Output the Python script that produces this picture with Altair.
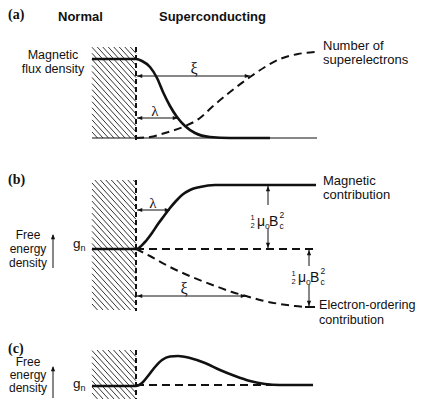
import altair as alt
import pandas as pd

# ---------------- data (diagram coordinates) ----------------
# (a) magnetic flux density (solid) and number of superelectrons (dashed)
flux_x = [92, 136, 142, 150, 157, 163, 170, 177, 185, 195, 210, 230, 270]
flux_y = [59, 59, 61, 67, 78, 92, 106, 117, 126, 133, 137, 138, 138]
super_x = [136, 150, 165, 183, 200, 212, 230, 250, 265, 280, 298, 315]
super_y = [138, 137, 133, 127, 118, 107, 92, 77, 67, 59, 54, 52]

# (b) magnetic contribution (solid) and electron-ordering contribution (dashed)
mag_x = [92, 136, 145, 152, 158, 164, 170, 176, 182, 190, 200, 215, 240, 316]
mag_y = [249, 249, 242, 233, 224, 216, 208, 201, 195, 190, 187, 185, 185, 185]
elec_x = [136, 150, 168, 185, 202, 218, 232, 246, 262, 280, 295, 306]
elec_y = [249, 256, 266, 274, 281, 287, 292, 296, 300.5, 304, 306, 307]

# (c) total free energy (solid)
tot_x = [92, 136, 142, 148, 155, 162, 170, 178, 190, 205, 220, 235, 250, 265, 280, 313]
tot_y = [386, 386, 383, 376, 367, 360, 356.5, 356, 358, 363, 370, 376, 381, 384, 385, 385]

# straight segments: x, y, x2, y2
thin_segs = [
    (137, 76, 250, 76), (137, 118, 178, 118),            # xi, lambda (a)
    (92, 138, 317, 138),                                 # baseline (a)
    (137, 210, 170, 210), (137, 296, 246, 296),          # lambda, xi (b)
    (268, 186, 268, 205), (268, 229, 268, 248),          # 1/2 mu0 Bc^2 upper
    (309, 250, 309, 266), (309, 285, 309, 306),          # 1/2 mu0 Bc^2 lower
    (53, 235, 53, 268), (53, 367, 53, 398),              # free energy arrows
]
thick_segs = [(305, 307, 315, 307)]
iface_segs = [(136, 47, 136, 140), (136, 180, 136, 311), (136, 350, 136, 405)]
level_segs = [(136, 249, 317, 249), (136, 385, 316, 385)]
# arrow heads: x, y, direction angle
heads = [
    (137, 76, 180), (250, 76, 0), (137, 118, 180), (178, 118, 0),
    (137, 210, 180), (170, 210, 0), (137, 296, 180), (246, 296, 0),
    (268, 186, 270), (268, 248, 90), (309, 250, 270), (309, 306, 90),
    (53, 234, 270), (53, 366, 270),
]
# hatched normal regions: x0, x1, y0, y1
hatch_boxes = [(92, 136, 47, 138), (92, 136, 180, 310), (92, 136, 350, 405)]
hatch_step = 5.5
hatch_slope = 1.1

# texts
sans_left = [
    ("Number of", 323, 50, 13), ("superelectrons", 323, 64, 13),
    ("Magnetic", 323, 185, 13), ("contribution", 323, 199, 13),
    ("Electron-ordering", 319, 309, 12.6), ("contribution", 319, 324, 12.6),
    ("g", 73, 248, 13.5), ("n", 80.5, 251, 9),
    ("g", 73, 388, 13.5), ("n", 80.5, 391, 9),
]
formula_parts = [  # text, x, y, size (relative to first label)
    ("\u03bc", 257, 226, 14), ("o", 265, 228.5, 8.5), ("B", 269, 226, 14),
    ("2", 279.5, 218, 8.5), ("c", 279.5, 228.5, 8.5),
]
formula_offsets = [(0, 0), (41, 56)]
fraction_parts = [("1", 252.5, 220, 7.5), ("2", 252.5, 227.5, 7.5)]
sans_center = [
    ("Magnetic", 53, 59, 12.5), ("flux density", 53, 73, 12.5),
    ("Free", 28, 239, 12), ("energy", 28, 253, 12), ("density", 28, 267, 12),
    ("Free", 28, 366, 12), ("energy", 28, 379, 12), ("density", 28, 392, 12),
]
bold_left = [("Normal", 58, 21, 13), ("Superconducting", 159, 21, 13)]
panel_labels = [("(a)", 8, 19, 14), ("(b)", 8, 184, 14), ("(c)", 8, 353, 14)]
greek = [("\u03be", 194, 74, 16), ("\u03bb", 155, 116, 15),
         ("\u03bb", 153, 208, 15), ("\u03be", 184, 294, 16)]

# ---------------- build tables ----------------
def curves(specs):
    rows = []
    for key, xs, ys in specs:
        for i, (x, y) in enumerate(zip(xs, ys)):
            rows.append({"x": x, "y": y, "k": key, "i": i})
    return pd.DataFrame(rows)

def segs(lst):
    return pd.DataFrame(lst, columns=["x", "y", "x2", "y2"])

def texts(lst):
    return pd.DataFrame(lst, columns=["t", "x", "y", "s"])

hatch = []
for (x0, x1, y0, y1) in hatch_boxes:
    s = x0 - (y1 - y0) / hatch_slope
    while s < x1:
        xa, ya = s, y0
        if xa < x0:
            ya, xa = y0 + hatch_slope * (x0 - s), x0
        xb, yb = s + (y1 - y0) / hatch_slope, y1
        if xb > x1:
            yb, xb = y0 + hatch_slope * (x1 - s), x1
        if ya < y1 and xa < xb:
            hatch.append((xa, ya, xb, yb))
        s += hatch_step

formula = []
frac = []
for dx, dy in formula_offsets:
    for t, x, y, sz in formula_parts:
        formula.append((t, x + dx, y + dy, sz))
    for t, x, y, sz in fraction_parts:
        frac.append((t, x + dx, y + dy, sz))

XS = alt.Scale(domain=[8, 416], nice=False, zero=False)
YS = alt.Scale(domain=[8, 399], nice=False, zero=False, reverse=True)
X = alt.X("x:Q", scale=XS, axis=None)
Y = alt.Y("y:Q", scale=YS, axis=None)
INK = "#111111"

solid = alt.Chart(curves([("f", flux_x, flux_y), ("m", mag_x, mag_y), ("t", tot_x, tot_y)])).mark_line(
    interpolate="monotone", color=INK, strokeWidth=2.6).encode(X, Y, detail="k:N", order="i:Q")
dashed = alt.Chart(curves([("s", super_x, super_y), ("e", elec_x, elec_y)])).mark_line(
    interpolate="monotone", color=INK, strokeWidth=2, strokeDash=[8, 5]).encode(X, Y, detail="k:N", order="i:Q")

def rule_layer(df, **kw):
    return alt.Chart(df).mark_rule(color=INK, **kw).encode(X, Y, x2="x2:Q", y2="y2:Q")

hatch_l = rule_layer(segs(hatch), strokeWidth=0.85)
thin_l = rule_layer(segs(thin_segs), strokeWidth=1)
thick_l = rule_layer(segs(thick_segs), strokeWidth=2)
iface_l = rule_layer(segs(iface_segs), strokeWidth=2, strokeDash=[5, 3])
level_l = rule_layer(segs(level_segs), strokeWidth=2, strokeDash=[8, 5])

heads_l = alt.Chart(pd.DataFrame(heads, columns=["x", "y", "a"])).mark_point(
    shape="M0,0L-1,-0.4L-1,0.4Z", filled=True, color=INK, opacity=1, size=110, strokeWidth=0
).encode(X, Y, angle=alt.Angle("a:Q", scale=None))

def text_layer(df, font, align, weight="normal"):
    return alt.Chart(df).mark_text(font=font, align=align, baseline="alphabetic",
                                   fontWeight=weight, color=INK).encode(
        X, Y, text="t:N", size=alt.Size("s:Q", scale=None))

SANS = "Liberation Sans"
SERIF = "Liberation Serif"
t1 = text_layer(texts(sans_left + formula), SANS, "left")
t2 = text_layer(texts(sans_center + frac), SANS, "center")
t3 = text_layer(texts(bold_left), SANS, "left", "bold")
t4 = text_layer(texts(panel_labels), SERIF, "left", "bold")
t5 = text_layer(texts(greek), SERIF, "center")

chart = alt.layer(hatch_l, iface_l, level_l, thin_l, thick_l, solid, dashed, heads_l,
                  t1, t2, t3, t4, t5).properties(
    width=408, height=391, padding=0, autosize=alt.AutoSizeParams(type="none"), background="white"
).configure_view(strokeWidth=0)

chart.save("out.html", embed_options={"renderer": "svg", "actions": False})
